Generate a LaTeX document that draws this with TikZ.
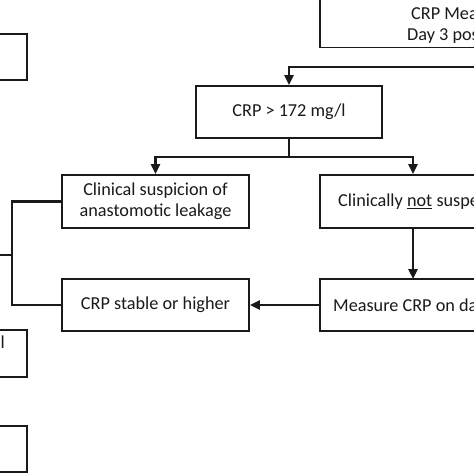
\documentclass[tikz,border=0pt]{standalone}
\usepackage{fontspec}
\setmainfont{Carlito}
\usetikzlibrary{arrows.meta}
\definecolor{ink}{HTML}{1A1A1A}
\tikzset{
  box/.style={draw=ink, line width=1.8bp, inner sep=0pt, fill=white},
  txt/.style={text=ink, inner sep=0pt, font=\fontsize{18.3}{21.5}\selectfont, align=center},
  conn/.style={draw=ink, line width=2.6bp},
  arr/.style={conn, -{Triangle[length=10bp,width=9bp]}}
}
\begin{document}
\begin{tikzpicture}[x=1bp,y=-1bp]
\useasboundingbox (0,0) rectangle (474,474);
\clip (0,0) rectangle (474,474);
\fill[white] (0,0) rectangle (474,474);
% boxes
\node[box, minimum width=80bp, minimum height=46bp] (l1) at (-13,57) {};
\node[box, minimum width=80bp, minimum height=47bp] (l2) at (-13,353.5) {};
\node[box, minimum width=80bp, minimum height=46bp] (l3) at (-13,449) {};
\node[box, minimum width=240bp, minimum height=48bp] (top) at (440,23.5) {};
\node[box, minimum width=186bp, minimum height=52bp] (crp) at (289,112) {};
\node[box, minimum width=187bp, minimum height=53bp] (susp) at (155.5,201.5) {};
\node[box, minimum width=240bp, minimum height=53bp] (nsusp) at (440,201.5) {};
\node[box, minimum width=187bp, minimum height=52bp] (stab) at (155.5,305) {};
\node[box, minimum width=240bp, minimum height=52bp] (meas) at (440,305) {};
% texts
\node[txt, anchor=east] (l2t) at (5,342) {l};
\node[txt, anchor=west] (topa) at (411,14) {CRP Mea};
\node[txt, anchor=west] (topb) at (407,36) {Day 3 pos};
\node[txt] (crpt) at (crp) {CRP > 172 mg/l};
\node[txt] (suspt) at (susp) {Clinical suspicion of\\anastomotic leakage};
\node[txt, anchor=west] (nsuspt) at (338,201.5) {Clinically \underline{not} suspe};
\node[txt] (stabt) at (stab) {CRP stable or higher};
\node[txt, anchor=west] (meast) at (333,305) {Measure CRP on da};
% connectors
\coordinate (tin) at (480,67);
\draw[arr] (tin) -- (289,67) -- (crp.north);
\coordinate (split) at (289,157);
\draw[conn] (crp.south) -- (split);
\draw[arr] (split) -- (155.5,157) -- (susp.north);
\draw[arr] (split) -- (413,157) -- (nsusp.north -| 413,0);
\coordinate (lbend) at (12,201.5);
\coordinate (lmid) at (12,255);
\coordinate (lout) at (-10,255);
\draw[conn] (susp.west) -- (lbend) -- (12,305) -- (stab.west);
\draw[conn] (lmid) -- (lout);
\draw[arr] (413,228) -- (413,279);
\draw[arr] (meas.west) -- (stab.east);
\end{tikzpicture}
\end{document}
